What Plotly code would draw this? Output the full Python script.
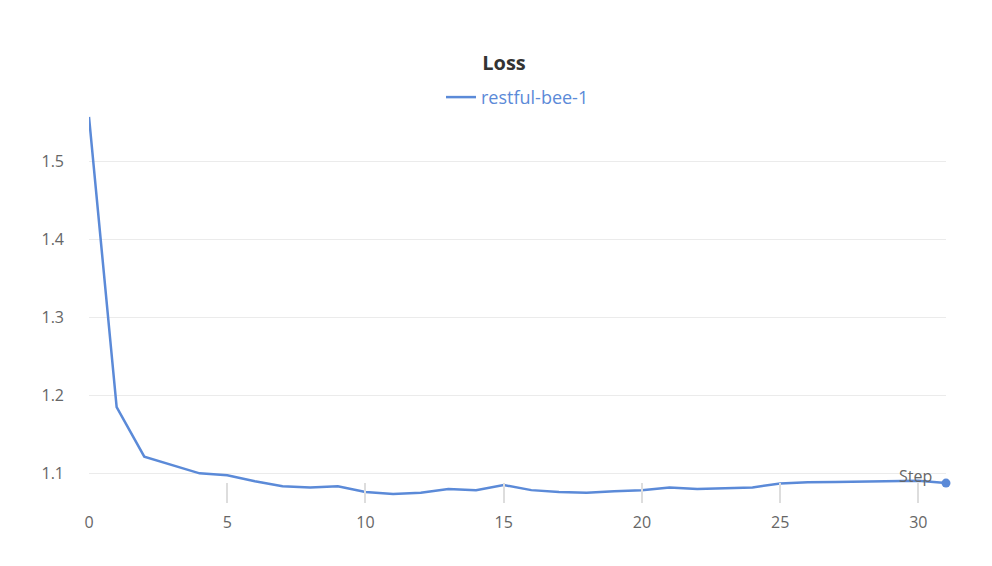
import plotly.graph_objects as go

steps = list(range(32))
loss = [1.557, 1.185, 1.1215, 1.111, 1.100, 1.0975, 1.090, 1.0835, 1.082, 1.0835,
        1.076, 1.0735, 1.075, 1.080, 1.0785, 1.085, 1.0785, 1.076, 1.075, 1.077,
        1.0785, 1.082, 1.080, 1.081, 1.082, 1.087, 1.0885, 1.089, 1.0895, 1.090,
        1.0905, 1.0875]
series_name = "restful-bee-1"
color = "#5b8ad8"

fig = go.Figure()
fig.add_trace(go.Scatter(x=steps, y=loss, mode="lines", name=series_name,
                         line=dict(color=color, width=2.5)))
fig.add_trace(go.Scatter(x=[steps[-1]], y=[loss[-1]], mode="markers", showlegend=False,
                         marker=dict(color=color, size=9), hoverinfo="skip", cliponaxis=False))
fig.update_layout(
    width=992, height=566, paper_bgcolor="white", plot_bgcolor="white",
    font=dict(family="Open Sans", color="#666", size=16),
    title=dict(text="<b>Loss</b>", x=0.5, xanchor="center", y=0.903, yanchor="middle",
               font=dict(size=20, color="#333")),
    legend=dict(orientation="h", x=0.5, xanchor="center", y=1.04, yanchor="middle",
                font=dict(color=color, size=18)),
    margin=dict(l=81, r=54, t=105, b=71),
    xaxis=dict(range=[0, 31], showgrid=False, zeroline=False, showline=False,
               ticks="inside", ticklen=20, tickcolor="#ddd", tickwidth=2,
               tickvals=[0, 5, 10, 15, 20, 25, 30], ticklabelstandoff=8),
    yaxis=dict(range=[1.062, 1.562], showgrid=True, gridcolor="#ebebeb", zeroline=False,
               tickvals=[1.1, 1.2, 1.3, 1.4, 1.5], tickformat=".1f", ticks="", ticklabelstandoff=24),
    annotations=[dict(text="Step", x=1, xref="paper", xanchor="right", xshift=-12,
                      y=1.1, yref="y", yanchor="middle", yshift=-3, showarrow=False,
                      font=dict(size=16, color="#666"))],
)
fig.write_html("out.html")
